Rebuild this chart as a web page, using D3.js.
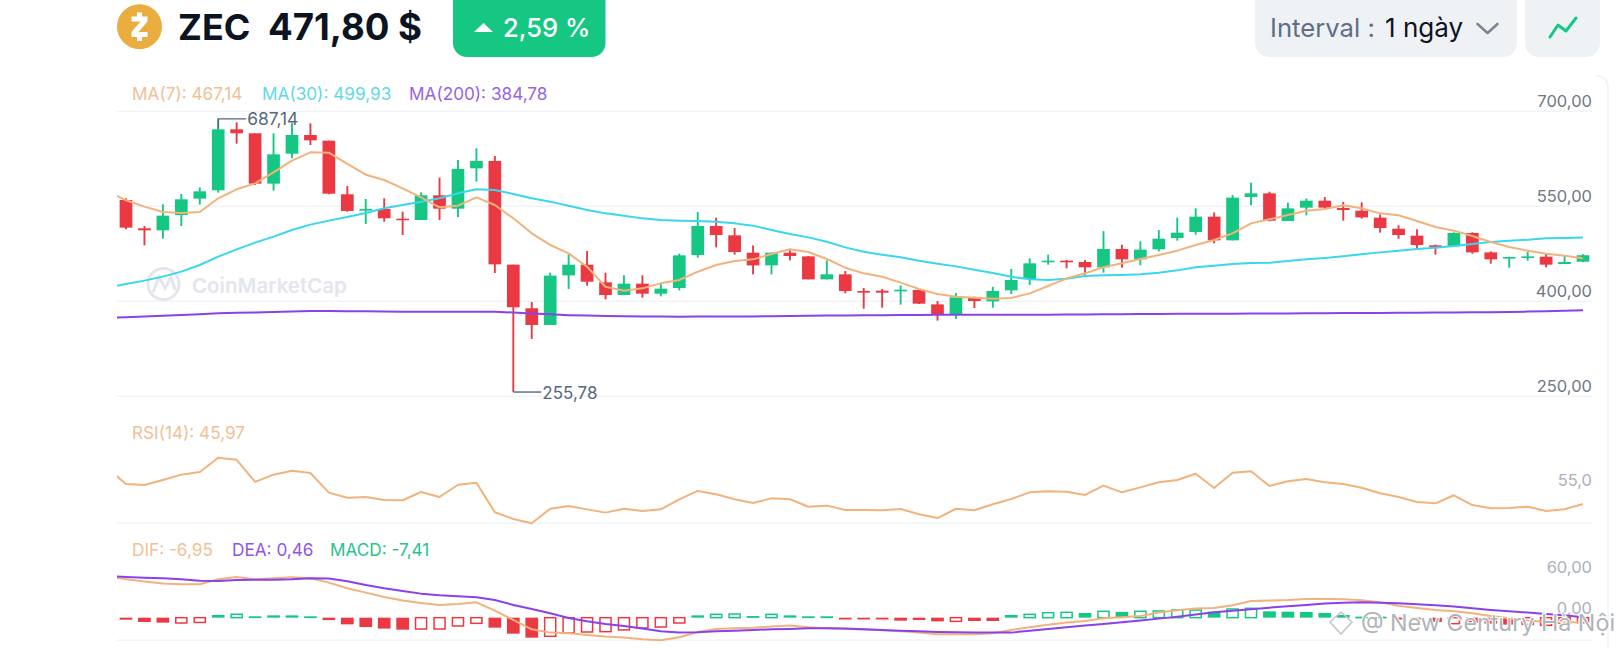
<!DOCTYPE html>
<html>
<head>
<meta charset="utf-8">
<script src="https://cdn.jsdelivr.net/npm/d3@7/dist/d3.min.js"></script>
<style>
  html, body { margin: 0; padding: 0; background: #fff; }
  svg { display: block; font-family: Inter, "Noto Sans", sans-serif; }
</style>
</head>
<body>
<div id="chart"></div>
<script>
// daily candles
var opens = [559,514.3,511.1,535.3,561.1,574.3,670.6,664.3,584.8,632.2,661.7,652.7,568,542.7,544.8,529.5,527.4,566.4,545.3,609,
  620.6,456.9,388,361.7,440,456.9,429,409,426.9,411.1,420,472.1,517.9,503.2,475.8,455.8,475.8,470,433.7,441.6,
  415.3,415.8,414.8,416.9,394.2,378.5,405.8,399,416.3,434.2,461.1,463.2,461.1,452.7,481.6,465.3,481.1,499,508.5,532.7,
  495.3,563.7,569.5,525.8,546.9,557.9,546.3,542.1,531.1,513.7,502.7,487.4,485.8,506.9,476.3,467.4,467.4,469.5,457.9,461.6];
var closes = [515.3,511.1,534.3,560.1,572.7,670.6,664.3,584.8,631.1,661.7,653.2,569,541.7,544.8,530.1,528,566.4,545.3,608,620.6,
  457.4,389.6,361.7,439.6,456.9,430,409,426.9,411.1,419,471.6,517.9,503.7,476.9,455.8,475.8,470.6,433.7,441.6,415.3,
  412.7,412.7,417.4,395.3,378.5,405.3,399.5,415.3,432.7,459,463.2,460.6,452.7,481.6,465.3,480.6,497.9,507.4,532.7,495.3,
  562.7,569.5,526.3,545.8,557.9,546.9,543.2,531.6,514.8,503.7,487.9,485.8,506.9,476.3,465.3,469,470,456.9,461.1,471.8];
var highs = [561.7,518,552.2,568.5,579,687.14,681.6,664.3,664.3,680,680,652.7,581.1,560.6,561.7,540.6,571.1,594.3,622.2,640.6,
  628.5,456.9,398,444.3,473.2,478.5,444.2,440,440,426.9,474.2,540,531.1,514.8,487.4,476.3,481.1,470.6,463.7,446.9,
  420,418.5,424.2,417.9,399.5,412.1,406.3,422.1,450,466.9,472.7,464.2,464.2,510,488.5,493.7,511.6,531.1,545.8,539.5,
  566.9,586.3,572.1,554.8,561.6,563.7,555.8,555.3,536.3,519,512.7,488.5,507.9,507.9,477.9,469.5,476.9,474.2,470.6,473.2];
var lows = [512.7,487.4,498,518,551.7,570.6,648,582.7,573.8,624.8,645.9,568,540.6,521.1,524.8,503.8,527.4,527.4,532.2,588,
  443.8,255.78,339.6,361.7,418.5,423.7,402.1,409,404.8,406.9,416.3,467.9,484.2,472.7,441.6,441.6,463.7,433.7,433.7,411.6,
  387.4,389,393.7,394.8,368.5,371.1,388.5,389,410.6,424.8,456.9,451.1,441.1,444.2,452.1,455.8,477.9,494.8,504.2,490.6,
  495.3,550.6,525.3,525.8,534.8,544.2,526.3,529.5,507.4,497.9,483.2,472.7,485.3,474.2,458.5,452.1,463.2,452.7,457.9,461.1];

// lines carry one extra leading value: they run off the left edge, one day before the first candle
var ma7 = [573.2,558.5,548.5,540.1,538.5,540.1,561.7,575.9,585.3,602.7,621.1,634.3,633.8,615.9,599,590.6,577.4,563.2,547.4,550.1,563.2,
  551.1,530.1,506.4,488,474.8,453.7,422.1,415.8,419.5,427.4,432.7,445.8,456.3,462.7,465.3,473.7,481.1,476.9,465.8,452.1,
  443.2,437.9,428.5,418.5,410.6,406.3,404.8,403.2,404.2,411.6,423.2,435.3,443.2,452.7,459,465.8,472.1,479,487.9,495.8,
  506.3,522.1,528.5,535.3,542.1,544.8,550.6,545.8,537.9,534.8,525.8,516.3,510.6,502.1,492.7,484.8,479,474.2,471.1,467.14];
var ma30 = [420.6,426.4,431.7,438,445.9,456.4,469.5,481.1,491.7,501.1,511.7,520.1,526.4,532.2,538.5,545.9,551.1,556.4,561.7,569.5,575.9,
  574.8,568.5,561.7,556.4,550,543.2,537.9,534.2,530,527.4,526.3,525.8,524.8,522.1,518.5,511.6,505.3,500,493.2,484.2,
  477.4,472.7,468.5,463.2,458.5,454.2,449,443.7,437.9,433.7,432.7,434.8,439,440,440.6,441.6,444.2,447.9,452.7,455.3,
  457.9,459.5,460,462.7,465.3,467.4,470,473.2,476.3,479,481.6,483.7,486.3,489.5,492.7,494.8,496.3,498.5,499,499.93];
var ma200 = [373.2,373.8,375,376.3,377.5,378.8,380,380.8,381.5,382.3,383,383.8,383.8,383.5,383.2,383,382.7,382.7,382.7,382.7,382.7,
  382.5,381.2,379.8,378.5,377.2,376.5,376,375.5,375.2,375,374.8,374.9,375,375.1,375.2,375.4,375.8,376.2,376.5,376.7,
  376.9,377.1,377.3,377.5,377.7,377.9,377.9,377.9,377.9,377.9,378,378.1,378.3,378.5,378.7,378.9,379,379.2,379.3,379.4,
  379.5,379.6,379.8,379.9,380.1,380.2,380.4,380.5,380.7,380.8,381,381.2,381.4,381.6,381.8,382.2,382.8,383.4,384,384.78];
var rsi = [69,58.9,58.2,61.5,64.9,66.6,75.8,74.5,60.2,64.9,67.4,66,53.3,50,50.5,48.6,48.4,53.7,50.5,58.4,59.7,
  40.6,36.3,33.5,42.9,44.7,42.5,40.4,42.9,41.5,42.5,49,54.4,52.2,49,46.6,49.6,49,44.2,44.9,42.1,
  42.1,41.9,42.7,39.3,36.9,42.9,41.9,45.8,49.2,53.5,54.2,53.9,51.8,57.8,53.5,56.7,60,61.5,65.5,56.3,
  66.2,67.1,57.6,60.6,62.1,60,58.9,56.5,52.9,50.5,47.3,46.4,51.6,45.3,43.2,43.4,44.2,41.5,42.6,45.97];
var dif = [61.1,56.2,52.8,49.9,48.9,48.9,56.2,59.6,56.2,57.7,59.1,57.7,51.3,43,36.7,30.3,25,21.5,18.6,20.1,22.5,
  10.3,-3.3,-17,-21.9,-22.9,-25.3,-27.7,-29.2,-31.6,-33.1,-28.7,-20.9,-16.5,-15.5,-14.6,-13.1,-11.6,-14.1,-15.5,-16.5,
  -17.5,-18.5,-19.9,-21.9,-24.3,-24.3,-24.3,-22.9,-18,-14.1,-10.2,-7.2,-4.8,-0.9,0.6,2.5,7.4,10.8,13.3,14.2,
  18.1,24.5,25,25.9,27.4,27.4,26.9,25.4,22.5,17.6,14.2,11.3,9.3,6.4,2.5,-0.9,-4.3,-6.3,-6.8,-6.95];
var dea = [61.1,59.6,58.6,57.7,56.2,54.2,53.8,55.2,55.7,55.7,56.2,57.7,57.2,53.3,47.9,43,39.1,35.2,32.8,31.3,29.8,
  25.9,18.6,12.8,6.4,-0.4,-5.3,-9.2,-12.1,-16,-19.9,-21.9,-21.4,-19.9,-19,-18,-17,-16.5,-15.5,-15.5,-16,
  -17,-18,-19,-19.9,-20.9,-21.4,-21.9,-21.9,-21.9,-19,-16.5,-14.1,-11.6,-9.2,-6.8,-4.3,-1.4,1.5,4.5,7.9,
  10.3,12.3,14.7,16.7,18.6,20.6,22,22.5,22,21,19.6,18.1,16.2,13.7,11.3,9.3,7.4,5.4,3.5,0.46];
var macd = [-3,-6.3,-7.3,-7.8,-7,4,5,2,3.4,3.4,2,-3.5,-9.8,-13.7,-16,-17.6,-16.6,-16.6,-12.2,-8.3,
  -14.6,-23.4,-29.3,-27.3,-22.4,-21,-20.5,-18,-15.1,-13.7,-7.8,3.4,4.9,5.4,2.4,4.9,3.4,2,2,-2.4,
  -2.4,-2.4,-4.4,-3.4,-5.4,-5.4,-4.9,-4.9,3.9,4.9,7.3,7.8,6.8,9.3,8.3,9.3,9.8,11.2,11.2,8.8,
  12.7,13.7,9.3,8.8,8.3,6.8,3.9,1.5,1.5,-2.4,-2.4,-6.3,-8.8,-7.8,-8.8,-10.2,-9.8,-11.2,-8.5,-7.41];
var hollowBars = [3,4,6,16,17,18,19,23,24,25,26,27,28,29,30,32,33,35,45,49,50,51,53,55,56,57,58,60,61,72,76,77,78,79];

var priceTicks = [700,550,400,250];
var rsiTicks = [55];
var macdTicks = [60,0];

var GREEN = '#16c784', RED = '#ea3943', ORANGE = '#f2b27c', CYAN = '#38d7ee', PURPLE = '#8a41ec';
var GRID = '#f1f3f6';

var svg = d3.select('#chart').append('svg').attr('width', 1623).attr('height', 648);
svg.append('rect').attr('width', 1623).attr('height', 648).attr('fill', '#fff');

var locale = d3.formatLocale({decimal: ',', thousands: '.', grouping: [3], currency: ['', '$']});
var fmt2 = locale.format('.2f'), fmt1 = locale.format('.1f');

var x = d3.scaleLinear().domain([0, 79]).range([126, 1583]);
var yPrice = d3.scaleLinear().domain([250, 700]).range([395.7, 110.7]);
var yRsi = d3.scaleLinear().domain([33.7, 55]).range([523, 490]);
var yMacd = d3.scaleLinear().domain([-33, 60]).range([640.2, 576.7]);
var bodyW = 12.7;

svg.append('clipPath').attr('id', 'plot').append('rect')
  .attr('x', 117).attr('y', 60).attr('width', 1475).attr('height', 588);

// right hand edge of the card
svg.append('path').attr('d', 'M1596,76 Q1608,76 1608,88 V648')
  .attr('fill', 'none').attr('stroke', '#f0f2f5').attr('stroke-width', 1.5);

/* header */
var head = svg.append('g');
head.append('circle').attr('cx', 139.5).attr('cy', 26.7).attr('r', 22.5).attr('fill', '#e9ad40');
head.append('path')
  .attr('d', 'M131.5,16.5 H137 V12.5 H142 V16.5 H147.5 V21.5 L138.5,32 H147.5 V37 H142 V41 H137 V37 H131.5 V32 L140.5,21.5 H131.5 Z')
  .attr('fill', '#fff');
head.append('text').attr('x', 178).attr('y', 39.5).attr('font-size', 36).attr('font-weight', 700)
  .attr('fill', '#0d1421').text('ZEC');
head.append('text').attr('x', 268).attr('y', 39.5).attr('font-size', 36.6).attr('font-weight', 700)
  .attr('fill', '#0d1421').text('471,80 $');
head.append('rect').attr('x', 453).attr('y', -14).attr('width', 152.5).attr('height', 71).attr('rx', 14).attr('fill', GREEN);
head.append('path').attr('d', 'M474,32 L483.5,23 L493,32 Z').attr('fill', '#fff');
head.append('text').attr('x', 503).attr('y', 36.5).attr('font-size', 25.6).attr('font-weight', 500)
  .attr('fill', '#fff').text('2,59 %');

head.append('rect').attr('x', 1255).attr('y', -14).attr('width', 262).attr('height', 71).attr('rx', 14).attr('fill', '#eff2f5');
head.append('text').attr('x', 1270).attr('y', 36.5).attr('font-size', 25.7).attr('fill', '#616e85').text('Interval :');
head.append('text').attr('x', 1385).attr('y', 36.5).attr('font-size', 26).attr('fill', '#0d1421').text('1 ngày');
head.append('path').attr('d', 'M1477.5,24 L1487.5,33 L1497.5,24').attr('fill', 'none')
  .attr('stroke', '#7a8596').attr('stroke-width', 2.6).attr('stroke-linecap', 'round').attr('stroke-linejoin', 'round');
head.append('rect').attr('x', 1525).attr('y', -14).attr('width', 75).attr('height', 71).attr('rx', 14).attr('fill', '#eff2f5');
head.append('path').attr('d', 'M1550,37 L1558,25 L1566,31 L1576,18').attr('fill', 'none')
  .attr('stroke', GREEN).attr('stroke-width', 3).attr('stroke-linecap', 'round').attr('stroke-linejoin', 'round');

/* axes, the grid is the tick line of the price axis */
function rightAxis(scale, ticks, format, tickLen, color){
  var g = svg.append('g').attr('transform', 'translate(1592,0)')
    .call(d3.axisRight(scale).tickValues(ticks).tickFormat(format).tickSize(-tickLen));
  g.select('.domain').remove();
  g.selectAll('line').attr('stroke', GRID).attr('stroke-width', 1.6);
  g.selectAll('text').attr('x', 0).attr('dy', '-0.28em').attr('text-anchor', 'end')
    .attr('font-size', 16.5).attr('font-family', 'Inter').attr('fill', color);
  return g;
}
rightAxis(yPrice, priceTicks, fmt2, 1475, '#6f7785');
rightAxis(yRsi, rsiTicks, fmt1, 0, '#aab1bc');
rightAxis(yMacd, macdTicks, fmt2, 0, '#aab1bc');

// panel floors
svg.append('line').attr('x1', 117).attr('x2', 1592).attr('y1', yRsi(33.7)).attr('y2', yRsi(33.7))
  .attr('stroke', GRID).attr('stroke-width', 1.6);
svg.append('line').attr('x1', 117).attr('x2', 1592).attr('y1', yMacd(-33)).attr('y2', yMacd(-33))
  .attr('stroke', GRID).attr('stroke-width', 1.6);

/* CoinMarketCap watermark */
var wm = svg.append('g').attr('opacity', 0.95);
wm.append('circle').attr('cx', 163.5).attr('cy', 284).attr('r', 15.5).attr('fill', 'none')
  .attr('stroke', '#e2e5eb').attr('stroke-width', 3);
wm.append('path').attr('d', 'M153,292 L159,277 L165,288 L171,277 L175,290').attr('fill', 'none')
  .attr('stroke', '#e2e5eb').attr('stroke-width', 3);
wm.append('text').attr('x', 192).attr('y', 293).attr('font-size', 20.5).attr('font-weight', 600)
  .attr('fill', '#e2e5eb').text('CoinMarketCap');

/* legends */
function legend(y, items){
  items.forEach(function(it){
    svg.append('text').attr('x', it[0]).attr('y', y).attr('font-size', 17.2).attr('fill', it[2]).text(it[1]);
  });
}
legend(100, [[132, 'MA(7): 467,14', '#efc196'], [262, 'MA(30): 499,93', '#5fd9ea'], [409, 'MA(200): 384,78', '#9763e2']]);
legend(439, [[132, 'RSI(14): 45,97', '#efc196']]);
legend(556, [[132, 'DIF: -6,95', '#efc196'], [232, 'DEA: 0,46', '#8f55e6'], [330, 'MACD: -7,41', '#2cc18d']]);

/* candles */
var candles = svg.append('g').selectAll('g').data(d3.range(opens.length)).join('g')
  .attr('fill', function(i){ return closes[i] >= opens[i] ? GREEN : RED; })
  .attr('stroke', function(i){ return closes[i] >= opens[i] ? GREEN : RED; });
candles.append('line')
  .attr('x1', function(i){ return x(i); }).attr('x2', function(i){ return x(i); })
  .attr('y1', function(i){ return yPrice(highs[i]); }).attr('y2', function(i){ return yPrice(lows[i]); })
  .attr('stroke-width', 1.9);
candles.append('rect')
  .attr('x', function(i){ return x(i) - bodyW / 2; }).attr('width', bodyW)
  .attr('y', function(i){ return yPrice(Math.max(opens[i], closes[i])); })
  .attr('height', function(i){ return Math.max(yPrice(Math.min(opens[i], closes[i])) - yPrice(Math.max(opens[i], closes[i])), 1.6); })
  .attr('stroke', 'none');

// highest and lowest markers
var hiIdx = d3.maxIndex(highs), loIdx = d3.minIndex(lows);
var markHi = yPrice(highs[hiIdx]);
svg.append('path').attr('d', 'M' + x(hiIdx) + ',' + (markHi + 10) + ' V' + markHi + ' H' + (x(hiIdx) + 28))
  .attr('fill', 'none').attr('stroke', '#58667e').attr('stroke-width', 1.4);
svg.append('text').attr('x', x(hiIdx) + 29).attr('y', markHi + 6.5).attr('font-size', 17.4).attr('fill', '#58667e')
  .text(fmt2(highs[hiIdx]));
var markLo = yPrice(lows[loIdx]);
svg.append('path').attr('d', 'M' + x(loIdx) + ',' + markLo + ' H' + (x(loIdx) + 28))
  .attr('fill', 'none').attr('stroke', '#58667e').attr('stroke-width', 1.4);
svg.append('text').attr('x', x(loIdx) + 29).attr('y', markLo + 7).attr('font-size', 17).attr('fill', '#58667e')
  .text(fmt2(lows[loIdx]));

/* MACD bars */
svg.append('g').selectAll('rect').data(macd).join('rect')
  .each(function(v, i){
    var hollow = hollowBars.indexOf(i) >= 0, color = v >= 0 ? GREEN : RED;
    var y0 = Math.min(yMacd(v), yMacd(0)), h = Math.max(Math.abs(yMacd(v) - yMacd(0)), 1.8);
    d3.select(this)
      .attr('x', x(i) - bodyW / 2 + (hollow ? 0.8 : 0)).attr('width', bodyW - (hollow ? 1.6 : 0))
      .attr('y', y0).attr('height', h)
      .attr('fill', hollow ? '#fff' : color)
      .attr('stroke', hollow ? color : 'none').attr('stroke-width', 1.5);
  });

/* lines */
function addLine(values, yScale, color, width){
  var line = d3.line().x(function(d, i){ return x(i - 1); }).y(function(d){ return yScale(d); });
  svg.append('path').datum(values).attr('d', line).attr('clip-path', 'url(#plot)')
    .attr('fill', 'none').attr('stroke', color).attr('stroke-width', width).attr('stroke-linejoin', 'round');
}
addLine(ma200, yPrice, PURPLE, 2);
addLine(ma30, yPrice, CYAN, 2);
addLine(ma7, yPrice, ORANGE, 2);
addLine(rsi, yRsi, ORANGE, 2);
addLine(dif, yMacd, ORANGE, 2);
addLine(dea, yMacd, PURPLE, 2);

/* reposter's mark over the bottom corner */
var mark = svg.append('g');
mark.append('path').attr('d', 'M1341,612 L1352,622 L1341,634 L1330,622 Z').attr('fill', 'none')
  .attr('stroke', '#c4c7cb').attr('stroke-width', 1.6);
mark.append('text').attr('x', 1361).attr('y', 631).attr('font-size', 23.3)
  .attr('fill', '#b0b4b9').attr('stroke', '#fff').attr('stroke-width', 2).attr('paint-order', 'stroke')
  .text('@ New Century Hà Nội');
</script>
</body>
</html>
